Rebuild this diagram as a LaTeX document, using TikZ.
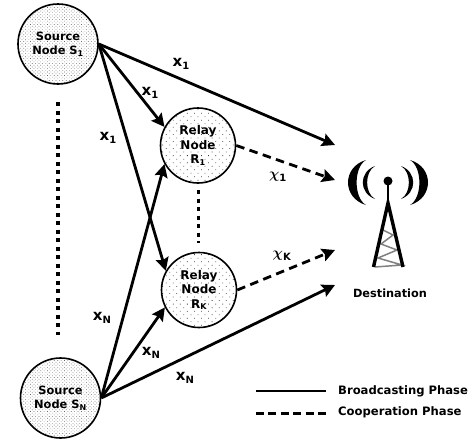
\documentclass[tikz,border=0pt]{standalone}
\usepackage{bm}
\usepackage{fontspec}
\setmainfont{DejaVu Sans}
\usetikzlibrary{arrows.meta,patterns.meta}
\newcommand{\lab}[2]{\fontsize{#1}{14}\selectfont\bfseries #2}
\newcommand{\xsub}[1]{{\fontsize{15}{14}\selectfont\bfseries x}\raisebox{-0.6ex}{\fontsize{10}{10}\selectfont\bfseries #1}}
\tikzset{
  source/.style={circle,draw,line width=1.6pt,minimum size=80pt,inner sep=0pt,align=center,
    pattern={Dots[distance=2.4pt,radius=0.45pt,angle=45]},pattern color=black!60,
    font=\fontsize{11.4}{14}\selectfont\bfseries},
  relay/.style={circle,draw,line width=1.6pt,minimum size=75pt,inner sep=0pt,align=center,
    pattern={Dots[distance=5pt,radius=0.55pt,angle=45]},pattern color=black!75,
    font=\fontsize{12}{14.5}\selectfont\bfseries},
  broadcast/.style={->,line width=2.8pt},
  cooperate/.style={->,line width=2.8pt,dash pattern=on 8.5pt off 5.5pt},
  dotline/.style={line width=4pt,dash pattern=on 4pt off 4.5pt}
}
\begin{document}
\begin{tikzpicture}[x=1pt,y=-1pt,>={Stealth[length=13pt,width=13pt,inset=2pt]}]
\useasboundingbox (0,0) rectangle (474,442);
% nodes
\node[source] (s1) at (58,44) {Source\\Node S\textsubscript{1}};
\node[source] (sN) at (60.5,398) {Source\\Node S\textsubscript{N}};
\node[relay] (r1) at (198,145.5) {Relay\\Node\\R\textsubscript{1}};
\node[relay] (rK) at (199,290) {Relay\\Node\\R\textsubscript{K}};
% free ends at the destination
\coordinate (d1) at (335,145);
\coordinate (d2) at (335,180);
\coordinate (d3) at (335,250);
\coordinate (d4) at (335,285);
% dots between the nodes
\coordinate (a1) at (57.5,102);
\coordinate (a2) at (57.5,335);
\coordinate (b1) at (198.5,190);
\coordinate (b2) at (198.5,243);
\draw[dotline] (a1) -- (a2);
\draw[dotline,line width=3.5pt] (b1) -- (b2);
% broadcasting
\draw[broadcast] (s1.east) -- (d1);
\draw[broadcast] (s1.east) -- (r1.151);
\draw[broadcast] (s1.east) -- (rK.150);
\draw[broadcast] (sN.east) -- (r1.209);
\draw[broadcast] (sN.east) -- (rK.207);
\draw[broadcast] (sN.east) -- (d4);
% cooperation
\draw[cooperate] (r1.east) -- (d2);
\draw[cooperate] (rK.east) -- (d3);
% labels
\node (x1a) at (181,64) {\xsub{1}};
\node (x1b) at (150,93) {\xsub{1}};
\node (x1c) at (108,138) {\xsub{1}};
\node (xNa) at (102,318) {\xsub{N}};
\node (xNb) at (151,353) {\xsub{N}};
\node (xNc) at (185,378) {\xsub{N}};
\node[font=\Large] (c1) at (278,177) {$\bm{\chi}_{\mathbf{1}}$};
\node[font=\Large] (cK) at (282,256) {$\bm{\chi}_{\mathbf{K}}$};
% tower
\foreach \sx in {-1,1}{
  \begin{scope}[shift={(388,0)},xscale=\sx]
    \fill (22,160) .. controls (46,167) and (46,198) .. (22,205)
      .. controls (34.5,198) and (34.5,167) .. (22,160);
    \fill (13,166) .. controls (29.3,172) and (29.3,193) .. (13,199)
      .. controls (23.5,193) and (23.5,172) .. (13,166);
  \end{scope}
}
\fill (388,181) circle (4.5);
\draw[line width=1.8pt] (388,181) -- (388,205);
\draw[black!50,line width=1.5pt] (383,230) -- (393,235) -- (381,244) -- (397,250) -- (378,258) -- (402,265) -- (375,267);
\draw[line width=3.4pt,line join=miter] (373.5,267) -- (388,203) -- (403,267);
\node[font=\lab{11.3}{}] (dest) at (390,293) {Destination};
% legend
\coordinate (l1) at (256,391);
\coordinate (l2) at (326,391);
\coordinate (l3) at (256,413);
\coordinate (l4) at (326,413);
\draw[line width=2.6pt] (l1) -- (l2);
\draw[line width=3pt,dash pattern=on 8pt off 4.4pt] (l3) -- (l4);
\node[anchor=west,inner sep=0pt,font=\lab{11.6}{}] (lg1) at (338,391) {Broadcasting Phase};
\node[anchor=west,inner sep=0pt,font=\lab{11.6}{}] (lg2) at (338,412) {Cooperation Phase};
\end{tikzpicture}
\end{document}
